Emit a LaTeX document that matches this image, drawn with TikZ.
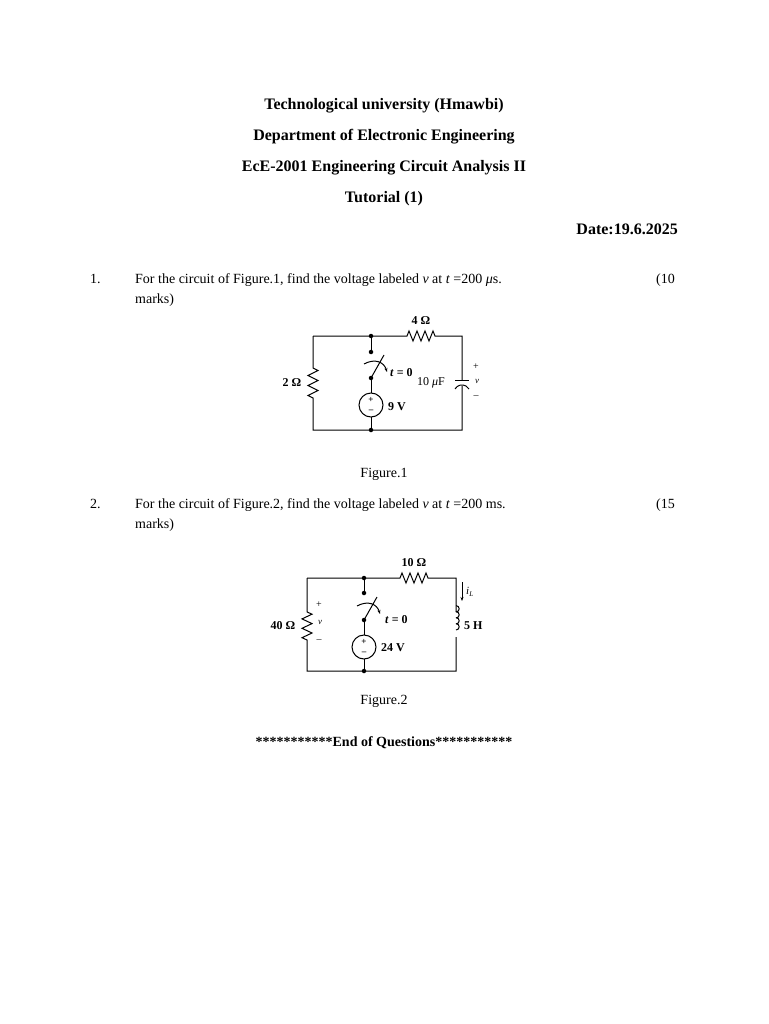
\documentclass[tikz,border=0pt]{standalone}
\usepackage{fontspec}
\setmainfont{Liberation Serif}
\usetikzlibrary{arrows.meta}
\begin{document}
\begin{tikzpicture}[x=1pt,y=-1pt,
  txt/.style={anchor=base west,inner sep=0,font=\fontsize{14}{16}\selectfont},
  ttl/.style={anchor=base,inner sep=0,font=\fontsize{16}{18}\selectfont\bfseries},
  lab/.style={inner sep=0,font=\fontsize{12}{14}\selectfont\bfseries},
  w/.style={line width=1pt},
  dot/.style={circle,fill,inner sep=0,minimum size=4.5pt}]
\useasboundingbox (0,0) rectangle (768,1024);
\node[ttl] (t1) at (384,110) {Technological university (Hmawbi)};
\node[ttl] (t2) at (384,141) {Department of Electronic Engineering};
\node[ttl] (t3) at (384,172) {EcE-2001 Engineering Circuit Analysis II};
\node[ttl] (t4) at (384,203) {Tutorial (1)};
\node[ttl,anchor=base east] (dt) at (678,235) {Date:19.6.2025};
\node[txt] (n1) at (90,283) {1.};
\node[txt] (q1) at (135,283) {For the circuit of Figure.1, find the voltage labeled \textit{v} at \textit{t} =200 \textit{μ}s.};
\node[txt] (m1a) at (656,283) {(10};
\node[txt] (m1b) at (135,303) {marks)};
\node[txt,anchor=base] (f1) at (384,477) {Figure.1};
\node[txt] (n2) at (90,508) {2.};
\node[txt] (q2) at (135,508) {For the circuit of Figure.2, find the voltage labeled \textit{v} at \textit{t} =200 ms.};
\node[txt] (m2a) at (656,508) {(15};
\node[txt] (m2b) at (135,528) {marks)};
\node[txt,anchor=base] (f2) at (384,704) {Figure.2};
\node[ttl,font=\fontsize{14}{16}\selectfont\bfseries] (end) at (384,746) {***********End of Questions***********};
% ---------- Figure 1
\begin{scope}[w]
\draw (313,336) -- (407,336) -- ++(2,-5) -- ++(4,10) -- ++(4,-10) -- ++(4,10) -- ++(4,-10) -- ++(4,10) -- ++(4,-10) -- ++(2,5) -- (462,336) -- (462,380);
\draw (462,386) -- (462,430) -- (313,430) -- (313,398) -- ++(-5,-2.5) -- ++(10,-5) -- ++(-10,-5) -- ++(10,-5) -- ++(-10,-5) -- ++(10,-5) -- ++(-5,-2.5) -- (313,336);
\draw (455,380) -- (469,380);
\draw (455,389) arc[start angle=-150,end angle=-30,radius=8.1];
\draw (371,336) -- (371,352);
\draw (371,378) -- (384,355);
\draw (371,378) -- (371,393);
\draw (371,417) -- (371,430);
\draw (371,405) circle[radius=12];
\draw[-{Stealth[length=4pt]}] (364,364) .. controls (375,358) and (384,362) .. (387,372);
\end{scope}
\node[dot] (d1) at (371,336) {};\node[dot] (d2) at (371,352) {};
\node[dot] (d3) at (371,378) {};\node[dot] (d4) at (371,430) {};
\node[lab] at (371,400) {\fontsize{9}{9}\selectfont +};
\node[lab] at (371,411) {\fontsize{9}{9}\selectfont –};
\node[lab] at (421,321) {4 Ω};
\node[lab] at (292,383) {2 Ω};
\node[lab,anchor=west] at (390,373) {\textit{t} = 0};
\node[lab,anchor=west,font=\fontsize{12}{14}\selectfont] at (417,383) {10 \textit{μ}F};
\node[lab,anchor=west] at (388,407) {9 V};
\node[lab,font=\fontsize{10}{10}\selectfont] at (476,367) {+};
\node[lab,font=\fontsize{9}{9}\selectfont\itshape] at (477,381) {v};
\node[lab,font=\fontsize{10}{10}\selectfont] at (476,397) {–};
% ---------- Figure 2
\begin{scope}[w]
\draw (307,578) -- (400,578) -- ++(2,-5) -- ++(4,10) -- ++(4,-10) -- ++(4,10) -- ++(4,-10) -- ++(4,10) -- ++(4,-10) -- ++(2,5) -- (456,578) -- (456,612);
\foreach \k in {0,1,2,3} \draw (456,612+6*\k) arc[start angle=90,end angle=-90,radius=3.2];
\draw (456,637) -- (456,671) -- (307,671) -- (307,640) -- ++(-5,-2.3) -- ++(10,-4.7) -- ++(-10,-4.7) -- ++(10,-4.7) -- ++(-10,-4.7) -- ++(10,-4.7) -- ++(-5,-2.3) -- (307,578);
\draw (364,578) -- (364,593);
\draw (364,620) -- (377,597);
\draw (364,620) -- (364,635);
\draw (364,659) -- (364,671);
\draw (364,647) circle[radius=12];
\draw[-{Stealth[length=4pt]}] (357,606) .. controls (368,600) and (377,604) .. (380,614);
\draw[-{Stealth[length=4pt]}] (462,582) -- (462,601);
\end{scope}
\node[dot] (e1) at (364,578) {};\node[dot] (e2) at (364,593) {};
\node[dot] (e3) at (364,620) {};\node[dot] (e4) at (364,671) {};
\node[lab] at (364,642) {\fontsize{9}{9}\selectfont +};
\node[lab] at (364,653) {\fontsize{9}{9}\selectfont –};
\node[lab] at (414,563) {10 Ω};
\node[lab] at (283,626) {40 Ω};
\node[lab,anchor=west] at (385,620) {\textit{t} = 0};
\node[lab,anchor=west] at (464,626) {5 H};
\node[lab,anchor=west] at (381,648) {24 V};
\node[lab,anchor=west,font=\fontsize{11}{11}\selectfont\itshape] at (466,592) {i\textsubscript{\fontsize{7}{7}\selectfont L}};
\node[lab,font=\fontsize{10}{10}\selectfont] at (319,605) {+};
\node[lab,font=\fontsize{9}{9}\selectfont\itshape] at (320,622) {v};
\node[lab,font=\fontsize{10}{10}\selectfont] at (319,641) {–};
\end{tikzpicture}
\end{document}
